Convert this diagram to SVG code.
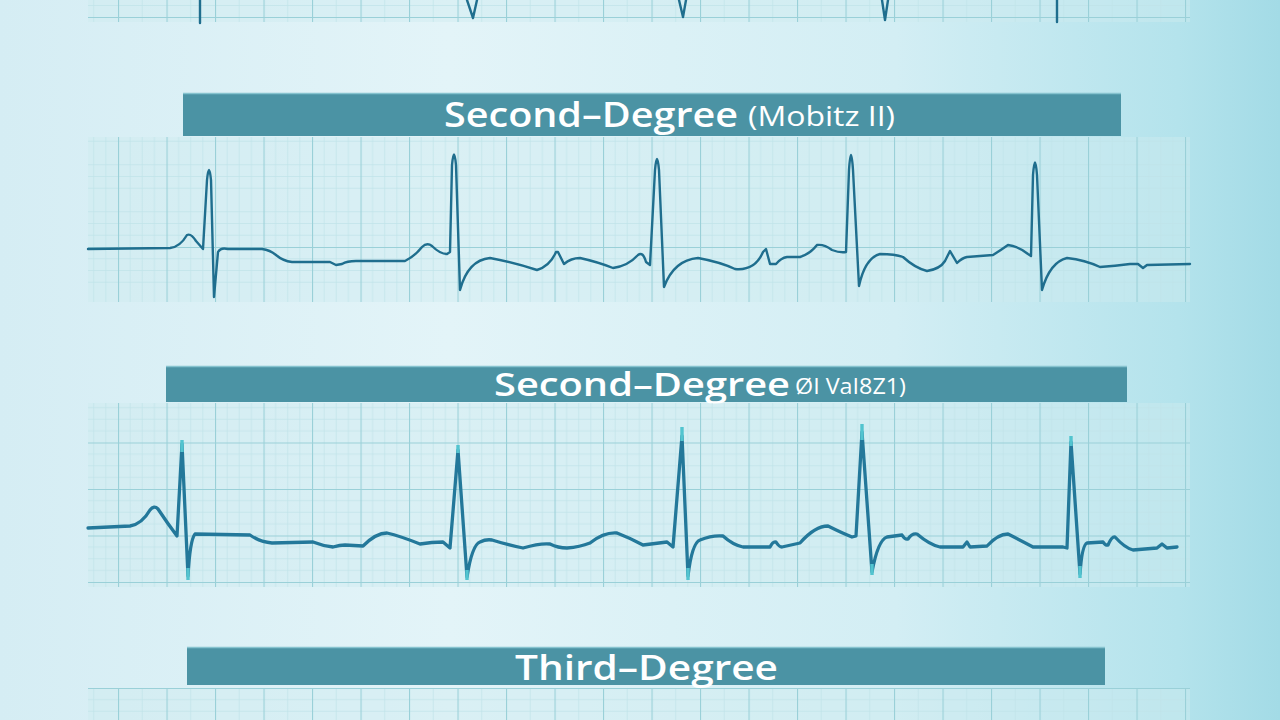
<svg xmlns="http://www.w3.org/2000/svg" width="1280" height="720" viewBox="0 0 1280 720">
<defs>
<linearGradient id="bg" x1="0" y1="0" x2="1" y2="0">
<stop offset="0" stop-color="#d5edf4"/>
<stop offset="0.35" stop-color="#e3f4f8"/>
<stop offset="0.7" stop-color="#d3eef4"/>
<stop offset="0.92" stop-color="#b4e3ec"/>
<stop offset="1" stop-color="#a3dbe6"/>
</linearGradient>
<pattern id="grid1" patternUnits="userSpaceOnUse" x="69.5" y="106" width="48.5" height="47">
<path d="M12.1,0V47M24.2,0V47M36.4,0V47M0,11.75H48.5M0,23.5H48.5M0,35.25H48.5" stroke="#bfe2e8" stroke-width="0.7" fill="none"/>
<path d="M0.5,0V47M0,0.5H48.5" stroke="#9ad0d8" stroke-width="1.2" fill="none"/>
</pattern>
<pattern id="grid2" patternUnits="userSpaceOnUse" x="69.5" y="396" width="48.5" height="46.5">
<path d="M12.1,0V46.5M24.2,0V46.5M36.4,0V46.5M0,11.6H48.5M0,23.25H48.5M0,34.9H48.5" stroke="#bfe2e8" stroke-width="0.7" fill="none"/>
<path d="M0.5,0V46.5M0,0.5H48.5" stroke="#9ad0d8" stroke-width="1.2" fill="none"/>
</pattern>
<pattern id="grid3" patternUnits="userSpaceOnUse" x="69.5" y="-6" width="48.5" height="23">
<path d="M24.2,0V23M0,11.5H48.5" stroke="#bfe2e8" stroke-width="0.7" fill="none"/>
<path d="M0.5,0V23M0,0.5H48.5" stroke="#9ad0d8" stroke-width="1.2" fill="none"/>
</pattern>
<pattern id="grid4" patternUnits="userSpaceOnUse" x="69.5" y="688" width="48.5" height="46.5">
<path d="M24.2,0V46.5M0,11.6H48.5M0,23.25H48.5" stroke="#bfe2e8" stroke-width="0.7" fill="none"/>
<path d="M0.5,0V46.5M0,0.5H48.5" stroke="#9ad0d8" stroke-width="1.2" fill="none"/>
</pattern>
</defs>
<style>
.strip{fill:#cfeaf0;fill-opacity:0.45}
.banner{fill:#4b93a4}
.bedge{stroke:#86c3cf;stroke-width:1.5}
.title{font-family:"Open Sans","Liberation Sans",sans-serif;font-weight:600;fill:#ffffff}
.sub{font-family:"Open Sans","Liberation Sans",sans-serif;font-weight:400;fill:#ffffff}
.trace{fill:none;stroke:#1f6e8e;stroke-width:2.4;stroke-linejoin:round;stroke-linecap:round}
.trace2{fill:none;stroke:#23789a;stroke-width:3.3;stroke-linejoin:round;stroke-linecap:round}
.tip{fill:none;stroke:#52c4cf;stroke-width:3.4;stroke-linecap:butt}
</style>
<rect width="1280" height="720" fill="url(#bg)"/>

<g id="strip-top">
<rect class="strip" x="88" y="0" width="1102" height="22"/>
<rect x="88" y="0" width="1102" height="22" fill="url(#grid3)"/>
<path class="trace" d="M200,0V23M467,0L473,18L477,0M679,0L683,17L686,0M882,0L885,20L888,0M1057,0V22"/>
</g>

<g id="banner-mobitz2">
<rect class="banner" x="183" y="93" width="938" height="43"/>
<line class="bedge" x1="183" y1="93.5" x2="1121" y2="93.5"/>
<text class="title" x="444" y="127" font-size="34" textLength="294" lengthAdjust="spacingAndGlyphs">Second–Degree</text>
<text class="sub" x="748" y="126" font-size="27" textLength="147" lengthAdjust="spacingAndGlyphs">(Mobitz II)</text>
</g>

<g id="strip-1">
<rect class="strip" x="88" y="137" width="1102" height="165"/>
<rect x="88" y="137" width="1102" height="165" fill="url(#grid1)"/>
<path class="trace" d="M88,249 L170,248 Q180,247 187,235 Q191,233 196,241 L203,249 L207,180 Q209,160 211,180 L214,297 L218,252 Q221,247 228,249 L262,249 Q270,250 276,255 Q283,261 292,262 L330,262 L336,265 L342,264 Q347,261 356,261 L405,261 Q415,256 422,247 Q427,242 432,246 Q440,254 447,254 L450,252 L452,165 Q454,144 456,165 L460,290 Q468,260 490,258 Q512,262 537,270 Q550,266 556,252 L558,252 L564,264 Q571,258 580,258 Q598,262 613,268 Q628,266 638,255 Q643,251 646,262 L650,265 L655,170 Q657,148 659,170 L664,287 Q674,260 698,258 Q720,262 735,269 Q755,271 763,252 L766,249 L770,264 L776,264 Q781,258 787,257 L800,257 Q810,254 817,245 Q824,244 832,250 Q840,253 846,252 L849,170 Q851,140 853,170 L859,286 Q865,258 880,254 Q895,254 903,257 Q915,268 927,271 Q940,269 945,261 L950,251 L957,263 Q962,258 967,257 L993,255 Q1001,250 1008,245 Q1018,246 1028,254 L1031,256 L1033,175 Q1035,150 1037,175 L1042,290 Q1050,262 1067,258 Q1085,260 1100,267 Q1115,266 1130,264 L1138,264 L1143,268 L1147,265 L1190,264"/>
</g>

<g id="banner-garbled">
<rect class="banner" x="166" y="366" width="961" height="36"/>
<line class="bedge" x1="166" y1="366.5" x2="1127" y2="366.5"/>
<text class="title" x="494" y="396" font-size="33" textLength="296" lengthAdjust="spacingAndGlyphs">Second–Degree</text>
<text class="sub" x="795" y="394" font-size="21" textLength="111" lengthAdjust="spacingAndGlyphs">ØI VaI8Z1)</text>
</g>

<g id="strip-2">
<rect class="strip" x="88" y="403" width="1102" height="184"/>
<rect x="88" y="403" width="1102" height="184" fill="url(#grid2)"/>
<path class="trace2" d="M88,528 L130,526 Q142,524 150,510 Q154,505 158,509 Q168,524 177,536 L182,444 L188,576 Q190,540 195,534 L250,535 Q260,542 272,543 L313,542 Q323,546 333,547 Q340,545 345,545 L363,546 Q376,533 387,533 Q400,536 420,544 Q432,542 443,542 L450,548 L458,450 L467,577 Q472,545 480,542 Q486,539 492,540 Q508,545 523,548 Q540,543 550,544 Q558,548 567,548 Q580,547 590,543 Q604,532 617,533 Q630,538 643,545 L667,542 L673,547 L682,436 L688,576 Q692,543 700,540 Q712,535 723,536 Q733,545 743,547 L770,547 Q773,541 776,542 Q779,547 782,547 L800,543 Q815,526 828,526 Q842,533 852,537 L856,536 L862,432 L872,572 Q878,540 887,537 L902,535 Q905,540 908,539 Q912,533 917,534 Q930,545 940,547 L963,547 L967,542 L970,547 L987,546 Q998,534 1008,534 Q1020,540 1033,547 L1063,547 L1067,548 L1071,442 L1080,574 Q1082,545 1087,543 L1103,542 Q1106,546 1108,545 Q1112,536 1115,537 Q1125,548 1133,550 L1157,548 L1162,544 L1167,548 L1177,547"/>
<path class="tip" d="M182,440V452M188,568V580M458,445V453M467,570V580M682,427V441M688,568V580M862,424V440M872,564V575M1071,436V446M1080,566V578"/>
</g>

<g id="banner-third">
<rect class="banner" x="187" y="647" width="918" height="38"/>
<line class="bedge" x1="187" y1="647.5" x2="1105" y2="647.5"/>
<text class="title" x="515" y="680" font-size="34" textLength="263" lengthAdjust="spacingAndGlyphs">Third–Degree</text>
</g>

<g id="strip-bottom">
<rect class="strip" x="88" y="688" width="1102" height="32"/>
<rect x="88" y="688" width="1102" height="32" fill="url(#grid4)"/>
</g>
</svg>
